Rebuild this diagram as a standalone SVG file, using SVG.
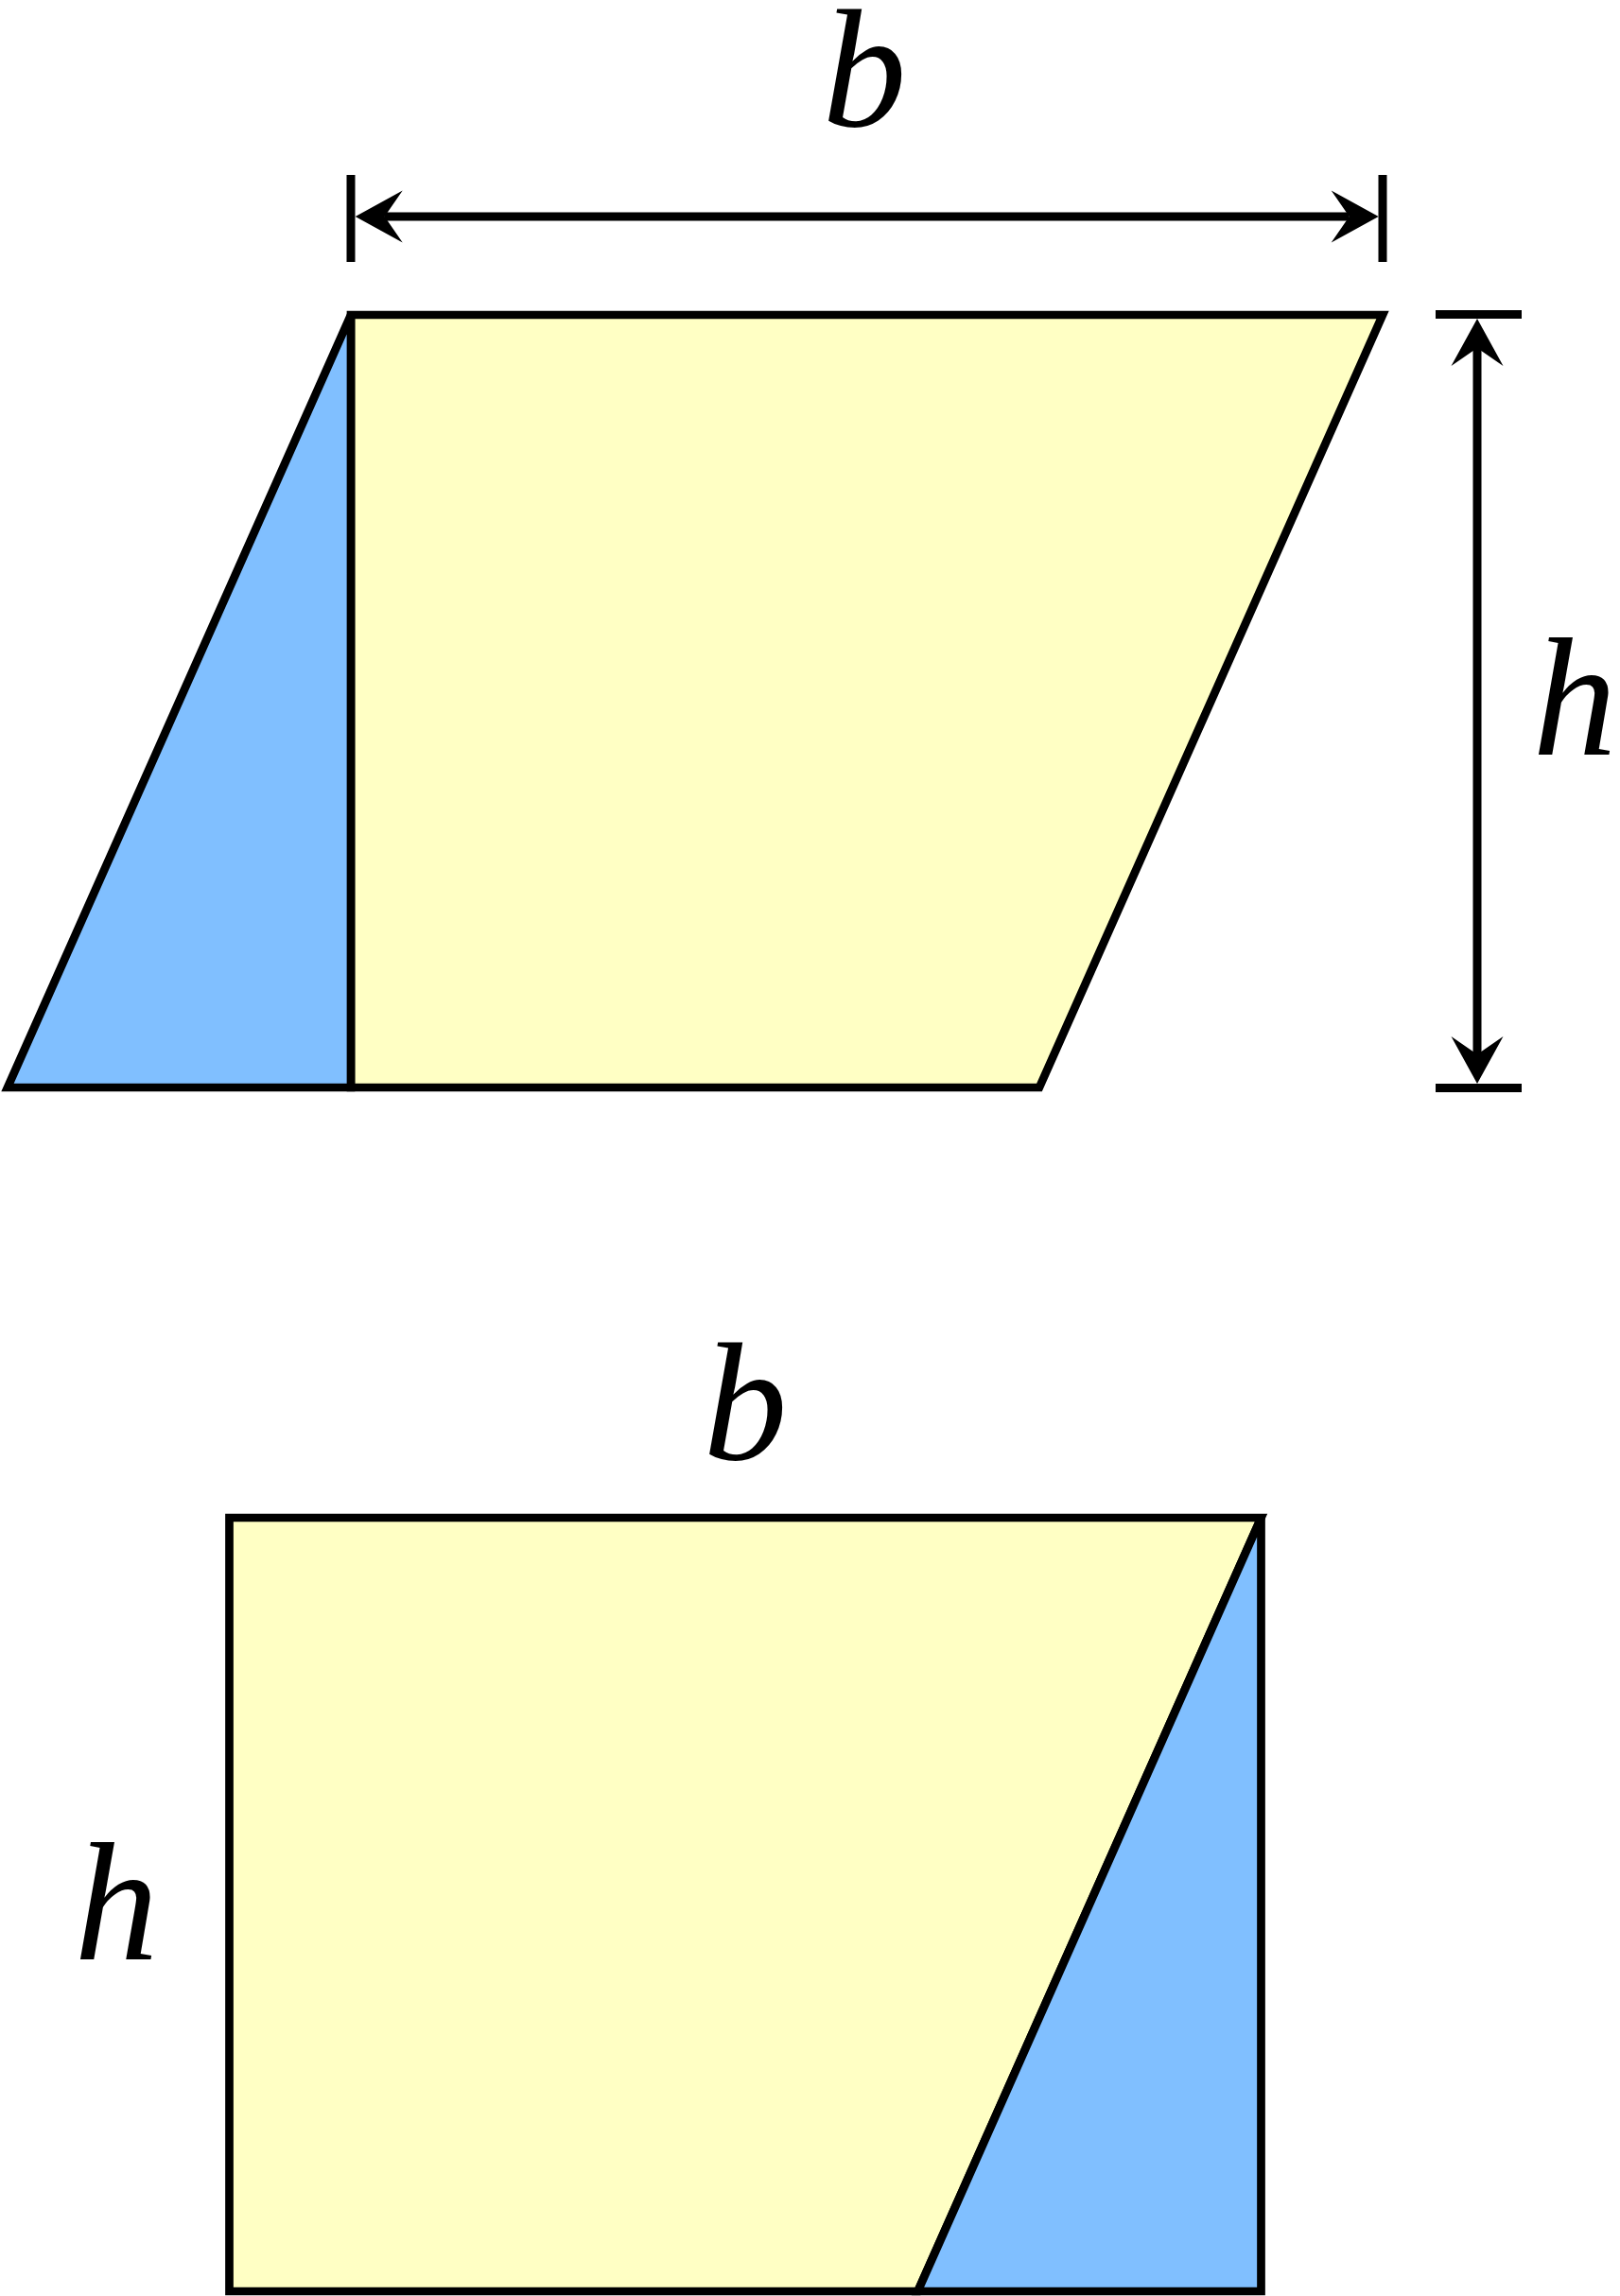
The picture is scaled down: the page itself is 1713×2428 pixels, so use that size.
<svg xmlns="http://www.w3.org/2000/svg" width="1713" height="2428" viewBox="0 0 1713 2428">
<style>
.shape{stroke:#000;stroke-width:8.7;stroke-linejoin:miter}
.yellow{fill:#FFFFC4}
.blue{fill:#80BFFF}
.dim{stroke:#000;stroke-width:9;fill:none}
.lbl{font-family:"Liberation Serif","DejaVu Serif",serif;font-style:italic;font-size:178px;fill:#000;text-anchor:middle}
</style>
<defs>
<marker id="arr" markerUnits="userSpaceOnUse" markerWidth="60" markerHeight="60" refX="19" refY="27.5" orient="auto-start-reverse" overflow="visible">
<path d="M0,0 L50,27.5 L0,55 L19,27.5 Z" fill="#000"/>
</marker>
</defs>
<rect width="1713" height="2428" fill="#fff"/>
<g id="parallelogram">
<polygon class="shape yellow" points="371,333 1462,333 1099,1150 371,1150"/>
<polygon class="shape blue" points="371,333 371,1150 8,1150"/>
</g>
<g id="rectangle">
<polygon class="shape yellow" points="242.5,1605 1333.5,1605 970.5,2423 242.5,2423"/>
<polygon class="shape blue" points="1333.5,1605 1333.5,2423 970.5,2423"/>
</g>
<g id="connectors">
<line class="dim" x1="371" y1="185" x2="371" y2="277"/>
<line class="dim" x1="1462" y1="185" x2="1462" y2="277"/>
<line class="dim" x1="406.7" y1="229" x2="1426.7" y2="229" marker-start="url(#arr)" marker-end="url(#arr)"/>
<line class="dim" x1="1518" y1="332.5" x2="1609" y2="332.5"/>
<line class="dim" x1="1518" y1="1150.5" x2="1609" y2="1150.5"/>
<line class="dim" x1="1562" y1="368" x2="1562" y2="1115" marker-start="url(#arr)" marker-end="url(#arr)"/>
</g>
<g id="labels">
<text class="lbl" x="914" y="133">b</text>
<text class="lbl" x="1665" y="798">h</text>
<text class="lbl" x="788" y="1543">b</text>
<text class="lbl" x="123" y="2072">h</text>
</g>
</svg>
